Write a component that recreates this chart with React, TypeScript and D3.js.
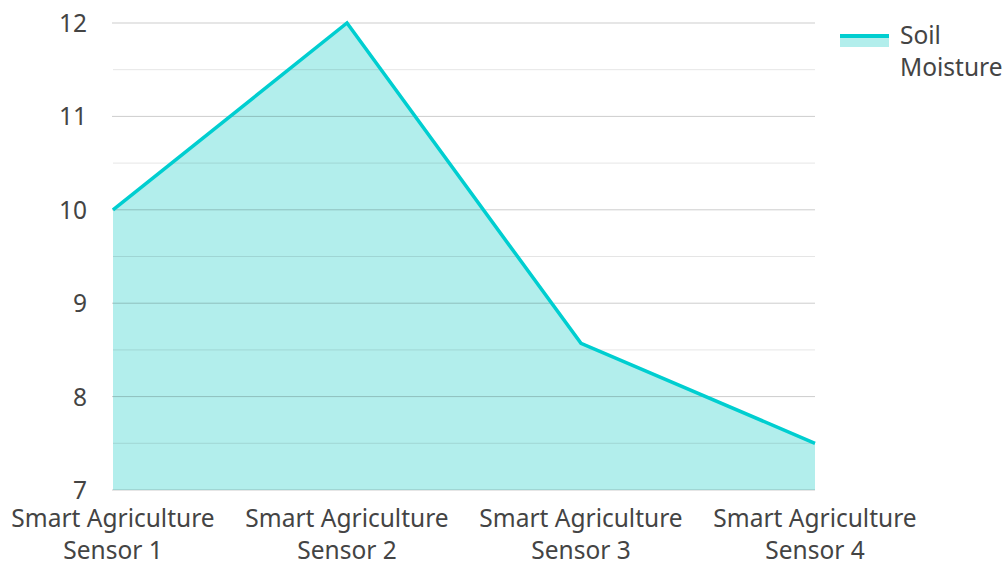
import React from "react";
import * as d3 from "d3";

const categories = [
  ["Smart Agriculture", "Sensor 1"],
  ["Smart Agriculture", "Sensor 2"],
  ["Smart Agriculture", "Sensor 3"],
  ["Smart Agriculture", "Sensor 4"],
];
const soilMoisture = [10, 12, 8.57, 7.5];
const yTicks = [7, 8, 9, 10, 11, 12];
const yMinorTicks = [7.5, 8.5, 9.5, 10.5, 11.5];
const seriesName = ["Soil", "Moisture"];

const W = 1005;
const H = 562;
const left = 113;
const right = 815;
const top = 23;
const bottom = 490;
const LINE = "#00CED0";
const FILL = "#B2EEEC";
const TEXT = "#444444";
const FONT = "'Noto Sans', 'Open Sans', sans-serif";

export default function App() {
  const x = d3.scalePoint<number>().domain(d3.range(categories.length)).range([left, right]);
  const y = d3.scaleLinear().domain([7, 12]).range([bottom, top]);
  const pts = soilMoisture.map((v, i) => [x(i) as number, y(v)] as [number, number]);
  const line = d3.line()(pts) || "";
  const area =
    d3
      .area<[number, number]>()
      .x((d) => d[0])
      .y0(y(7))
      .y1((d) => d[1])(pts) || "";

  return (
    <svg
      width={W}
      height={H}
      style={{ position: "absolute", left: 0, top: 0, fontFamily: FONT }}
    >
      <path d={area} fill={FILL} />
      {yMinorTicks.map((t) => (
        <line key={"m" + t} x1={left} x2={right} y1={y(t)} y2={y(t)} stroke="#000" strokeOpacity={0.1} strokeWidth={1} />
      ))}
      {yTicks.map((t) => (
        <line key={"g" + t} x1={left - 1} x2={right} y1={y(t)} y2={y(t)} stroke="#000" strokeOpacity={0.2} strokeWidth={1} />
      ))}
      <path d={line} fill="none" stroke={LINE} strokeWidth={3.5} strokeLinejoin="miter" />
      {yTicks.map((t) => (
        <text key={"t" + t} x={87} y={y(t) + 9} textAnchor="end" fontSize={24.5} fill={TEXT}>
          {t}
        </text>
      ))}
      {categories.map((c, i) => (
        <text key={"c" + i} x={x(i)} textAnchor="middle" fontSize={24.5} fill={TEXT}>
          <tspan x={x(i)} y={527}>{c[0]}</tspan>
          <tspan x={x(i)} y={559}>{c[1]}</tspan>
        </text>
      ))}
      <g>
        <rect x={840} y={36} width={49} height={11} fill={FILL} />
        <line x1={840} x2={889} y1={36} y2={36} stroke={LINE} strokeWidth={4} />
        <text x={900} y={44} fontSize={24.5} fill={TEXT}>
          <tspan x={900} y={44}>{seriesName[0]}</tspan>
          <tspan x={900} y={76}>{seriesName[1]}</tspan>
        </text>
      </g>
    </svg>
  );
}
